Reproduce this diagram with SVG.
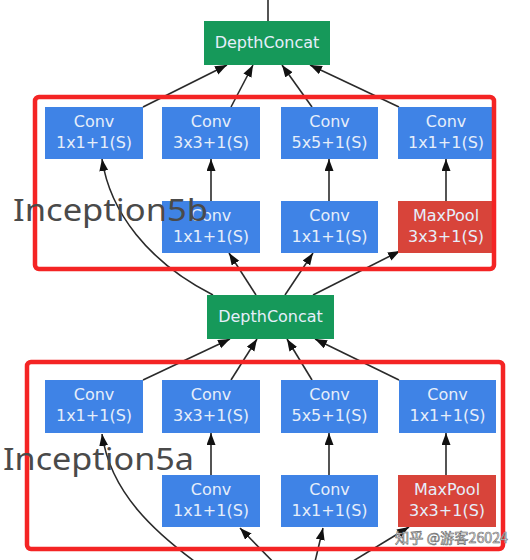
<svg xmlns="http://www.w3.org/2000/svg" width="530" height="560" viewBox="0 0 530 560">
<defs>
<marker id="ah" markerUnits="userSpaceOnUse" markerWidth="13" markerHeight="10" refX="12" refY="4.5" orient="auto">
<path d="M0,0 L12,4.5 L0,9 z" fill="#111"/>
</marker>
<style>
.conv{fill:#3f83e6}
.pool{fill:#d8443a}
.dc{fill:#16995a}
.t{font-family:"DejaVu Sans",sans-serif;font-size:16px;fill:#e6eefa;text-anchor:middle}
.e{fill:none;stroke:#2a2a2a;stroke-width:1.6;marker-end:url(#ah)}
.frame{fill:none;stroke:#f42424;stroke-width:4.5}
.lbl{font-family:"Noto Sans","Liberation Sans",sans-serif;font-size:31px;fill:#4a4a4a}
</style>
</defs>
<rect width="530" height="560" fill="#fff"/>
<g id="connectors">
<line x1="268" y1="0" x2="268" y2="21" stroke="#2a2a2a" stroke-width="1.6"/>
<line class="e" x1="143" y1="107" x2="227" y2="65"/>
<line class="e" x1="231" y1="107" x2="253" y2="65"/>
<line class="e" x1="312" y1="107" x2="282" y2="65"/>
<line class="e" x1="399" y1="107" x2="310" y2="65"/>
<line class="e" x1="211" y1="201" x2="211" y2="159"/>
<line class="e" x1="329" y1="201" x2="329" y2="159"/>
<line class="e" x1="446" y1="201" x2="446" y2="159"/>
<path class="e" d="M213,295 C148,262 110,212 102,159"/>
<line class="e" x1="256" y1="295" x2="229" y2="253"/>
<line class="e" x1="285" y1="295" x2="313" y2="253"/>
<line class="e" x1="313" y1="295" x2="400" y2="251"/>
<line class="e" x1="143" y1="380" x2="230" y2="339"/>
<line class="e" x1="231" y1="380" x2="257" y2="339"/>
<line class="e" x1="312" y1="380" x2="287" y2="339"/>
<line class="e" x1="399" y1="380" x2="315" y2="339"/>
<line class="e" x1="211" y1="475" x2="211" y2="433"/>
<line class="e" x1="329" y1="475" x2="329" y2="433"/>
<line class="e" x1="446" y1="475" x2="446" y2="433"/>
<path class="e" d="M218,578 C150,532 110,490 102,434"/>
<line class="e" x1="280" y1="569" x2="240" y2="528"/>
<line class="e" x1="314" y1="566" x2="323" y2="528"/>
<line class="e" x1="345" y1="566" x2="409" y2="527"/>
</g>
<g id="dc_top"><rect class="dc" x="204" y="21" width="126" height="44"/><text class="t" x="267" y="48">DepthConcat</text></g>
<g id="b5_c1"><rect class="conv" x="45" y="107" width="98" height="52"/><text class="t" x="94" y="127">Conv</text><text class="t" x="94" y="148">1x1+1(S)</text></g>
<g id="b5_c2"><rect class="conv" x="162" y="107" width="98" height="52"/><text class="t" x="211" y="127">Conv</text><text class="t" x="211" y="148">3x3+1(S)</text></g>
<g id="b5_c3"><rect class="conv" x="281" y="107" width="97" height="52"/><text class="t" x="329.5" y="127">Conv</text><text class="t" x="329.5" y="148">5x5+1(S)</text></g>
<g id="b5_c4"><rect class="conv" x="398" y="107" width="96" height="52"/><text class="t" x="446" y="127">Conv</text><text class="t" x="446" y="148">1x1+1(S)</text></g>
<g id="b5_r2"><rect class="conv" x="162" y="201" width="98" height="52"/><text class="t" x="211" y="221">Conv</text><text class="t" x="211" y="242">1x1+1(S)</text></g>
<g id="b5_r3"><rect class="conv" x="281" y="201" width="97" height="52"/><text class="t" x="329.5" y="221">Conv</text><text class="t" x="329.5" y="242">1x1+1(S)</text></g>
<g id="b5_mp"><rect class="pool" x="398" y="201" width="96" height="52"/><text class="t" x="446" y="221">MaxPool</text><text class="t" x="446" y="242">3x3+1(S)</text></g>
<g id="dc_mid"><rect class="dc" x="207" y="295" width="127" height="44"/><text class="t" x="270.5" y="322">DepthConcat</text></g>
<g id="a5_c1"><rect class="conv" x="45" y="380" width="98" height="53"/><text class="t" x="94" y="400">Conv</text><text class="t" x="94" y="421">1x1+1(S)</text></g>
<g id="a5_c2"><rect class="conv" x="162" y="380" width="98" height="53"/><text class="t" x="211" y="400">Conv</text><text class="t" x="211" y="421">3x3+1(S)</text></g>
<g id="a5_c3"><rect class="conv" x="281" y="380" width="97" height="53"/><text class="t" x="329.5" y="400">Conv</text><text class="t" x="329.5" y="421">5x5+1(S)</text></g>
<g id="a5_c4"><rect class="conv" x="399" y="380" width="97" height="53"/><text class="t" x="447.5" y="400">Conv</text><text class="t" x="447.5" y="421">1x1+1(S)</text></g>
<g id="a5_r2"><rect class="conv" x="162" y="475" width="98" height="52"/><text class="t" x="211" y="495">Conv</text><text class="t" x="211" y="516">1x1+1(S)</text></g>
<g id="a5_r3"><rect class="conv" x="281" y="475" width="97" height="52"/><text class="t" x="329.5" y="495">Conv</text><text class="t" x="329.5" y="516">1x1+1(S)</text></g>
<g id="a5_mp"><rect class="pool" x="398" y="475" width="98" height="52"/><text class="t" x="447" y="495">MaxPool</text><text class="t" x="447" y="516">3x3+1(S)</text></g>
<g id="frame5b"><rect class="frame" x="35" y="97" width="459" height="172" rx="4"/></g>
<g id="frame5a"><rect class="frame" x="27" y="362" width="476" height="187" rx="4"/></g>
<text class="lbl" x="13" y="221" textLength="195" lengthAdjust="spacingAndGlyphs">Inception5b</text>
<text class="lbl" x="3" y="470" textLength="191" lengthAdjust="spacingAndGlyphs">Inception5a</text>
<text x="395" y="543" font-family="Noto Sans CJK SC, sans-serif" font-size="14" fill="#f4f4f4" stroke="#666" stroke-width="0.6" textLength="113" lengthAdjust="spacingAndGlyphs">知乎 @游客26024</text>
</svg>
